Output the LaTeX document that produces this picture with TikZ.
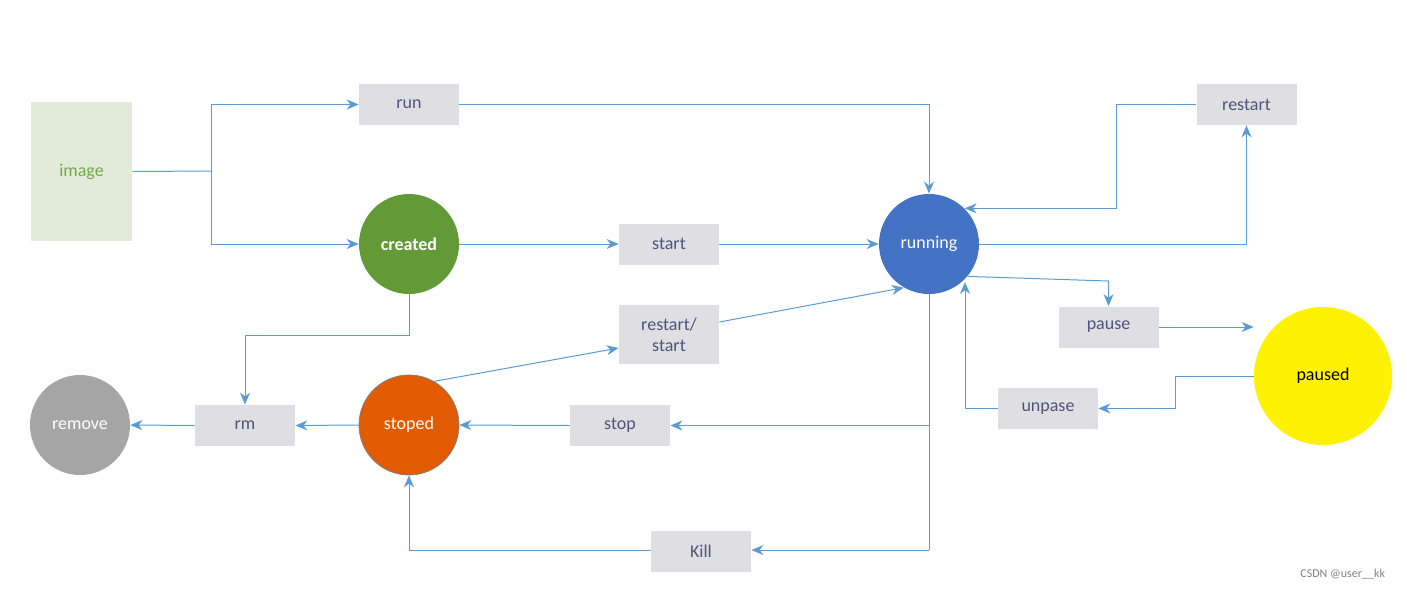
\documentclass[tikz,border=0pt]{standalone}
\usepackage{fontspec}
\setmainfont{Carlito}
\usetikzlibrary{arrows.meta}
\definecolor{lb}{HTML}{5B9BD5}
\definecolor{bx}{HTML}{DEDEE3}
\definecolor{bt}{HTML}{54527A}
\definecolor{imgbg}{HTML}{E2EBD9}
\definecolor{imgtx}{HTML}{70AD47}
\definecolor{cgreen}{HTML}{629A37}
\definecolor{cblue}{HTML}{4472C4}
\definecolor{corange}{HTML}{E35B00}
\definecolor{cgray}{HTML}{A5A5A5}
\begin{document}
\begin{tikzpicture}[x=0.5pt,y=-0.5pt,
 box/.style={fill=bx,minimum width=50pt,minimum height=20.5pt,inner sep=0pt,text=bt,font=\fontsize{9}{10.5}\selectfont,align=center},
 st/.style={circle,minimum size=50pt,inner sep=0pt,text=white,font=\fontsize{9}{11}\selectfont},
 ar/.style={draw=lb,line width=0.5pt,-{Stealth[length=6pt,width=5pt]}},
 ln/.style={draw=lb,line width=0.5pt}]
\useasboundingbox (0,0) rectangle (1407,590);
\node[fill=imgbg,minimum width=50.5pt,minimum height=69.5pt,inner sep=0pt,text=imgtx,font=\fontsize{9}{11}\selectfont] (image) at (81.5,171.5) {image};
\node[box] (run) at (409,104.5) {run};
\node[st,fill=cgreen,font=\fontsize{9}{11}\selectfont\bfseries] (created) at (409,244) {created};
\node[box] (start) at (669,244) {start};
\node[st,fill=cblue] (running) at (929,244) {running};
\node[box] (restart) at (1246.5,104.5) {restart};
\node[box] (pause) at (1108.5,327) {pause};
\node[st,fill=yellow,minimum size=69pt,text=black] (paused) at (1323,376) {paused};
\node[box] (unpase) at (1048,408.5) {unpase};
\node[box,minimum height=29.5pt] (rs) at (669,334.5) {restart/\\start};
\node[st,fill=corange,draw=gray,line width=0.4pt] (stoped) at (409,425) {stoped};
\node[box] (stop) at (620,425.5) {stop};
\node[box] (rm) at (245,425.5) {rm};
\node[st,fill=cgray] (remove) at (80,425) {remove};
\node[box] (kill) at (701,551.5) {Kill};
\node[text=gray,font=\fontsize{6}{7}\selectfont,anchor=east] (wm) at (1392,574) {CSDN @user\_\_kk};
\coordinate (j1) at (211,171);
\draw[ln] (image.east) -- (j1);
\draw[ar] (j1) |- (run.west);
\draw[ar] (j1) |- (created.west);
\draw[ar] (run.east) -| (running.north);
\draw[ar] (created.east) -- (start.west);
\draw[ar] (start.east) -- (running.west);
\draw[ar] (running.east) -| (restart.south);
\draw[ar] (restart.west) -- (1116,104.5) |- (running.45);
\draw[ar] (running.-40) -- (1108.5,281) -- (pause.north);
\draw[ar] (pause.east) -- (paused.west |- pause.east);
\draw[ar] (paused.west) -- (1175,376) |- (unpase.east);
\draw[ar] (unpase.west) -- (965,408.5) -- (965,282);
\draw[ar] (rs.east |- 0,322) -- (running.-120);
\draw[ar] (stoped.60) -- (rs.west |- 0,348);
\coordinate (j2) at (929,425.5);
\coordinate (j3) at (929,550);
\draw[ln] (running.south) -- (j3);
\draw[ar] (j2) -- (stop.east);
\draw[ar] (j3) -- (kill.east |- j3);
\draw[ar] (stop.west) -- (stoped.east);
\draw[ar] (stoped.west) -- (rm.east);
\draw[ar] (rm.west) -- (remove.east);
\draw[ar] (created.south) -- (409,335) -| (rm.north);
\draw[ar] (kill.west |- j3) -| (stoped.south);
\end{tikzpicture}
\end{document}
